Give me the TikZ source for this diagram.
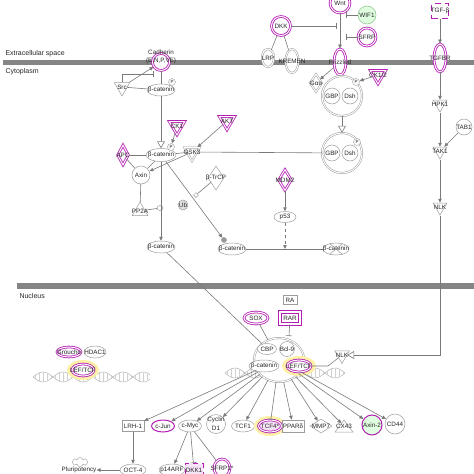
\documentclass[tikz,border=0pt]{standalone}
\usepackage{fontspec}
\setmainfont{Liberation Sans}
\usetikzlibrary{arrows.meta,shapes.geometric,shapes.symbols}
\definecolor{mag}{HTML}{B41EB4}
\definecolor{magfill}{HTML}{F7E3F7}
\definecolor{ln}{HTML}{7A7A7A}
\definecolor{shp}{HTML}{9C9C9C}
\definecolor{memb}{HTML}{858585}
\definecolor{glowy}{HTML}{FFF0A8}
\newcommand\zt[1]{\makebox[0pt]{#1}}
% double helix: start x, length, y
\newcommand\dnahelix[3]{%
  \draw[dna] plot[domain=0:#2,samples=90,smooth] ({#1+\x},{#3+5*sin(\x*9)});
  \draw[dna] plot[domain=0:#2,samples=90,smooth] ({#1+\x},{#3-5*sin(\x*9)});
  \foreach \r in {2,6,...,#2} \draw[dna,black!18] ({#1+\r},{#3+5*sin(\r*9)}) -- ({#1+\r},{#3-5*sin(\r*9)});}
\begin{document}
\begin{tikzpicture}[x=1pt,y=-1pt,
  base/.style={inner sep=0pt, font=\fontsize{6.3}{6.8}\selectfont, text=black!85},
  gel/.style={base, ellipse, draw=shp, fill=white, line width=0.5pt},
  gdb/.style={gel, double=white, double distance=1pt},
  mel/.style={base, ellipse, draw=mag, fill=white, line width=0.8pt, double=white, double distance=1pt},
  kin/.style={base, regular polygon, regular polygon sides=3, shape border rotate=180,
              minimum size=18pt, draw=shp, fill=white, line width=0.5pt},
  mkin/.style={kin, draw=mag, line width=0.8pt, double=white, double distance=1pt},
  phos/.style={kin, shape border rotate=0},
  dia/.style={base, diamond, draw=shp, fill=white, line width=0.5pt},
  mdia/.style={dia, draw=mag, line width=0.8pt, double=white, double distance=1pt},
  bx/.style={base, rectangle, draw=shp, fill=white, line width=0.5pt},
  pp/.style={base, circle, draw=shp, fill=white, minimum size=7pt, font=\fontsize{4.5}{4.5}\selectfont},
  glw/.style={ellipse, fill=glowy, draw=none},
  ln/.style={draw=ln, line width=0.6pt},
  ar/.style={ln, -{Triangle[length=4pt,width=3.5pt]}},
  oar/.style={ln, -{Triangle[open,length=7pt,width=8pt]}},
  inh/.style={ln, -{Bar[width=6pt]}},
  dna/.style={draw=black!30, line width=0.5pt},
  lab/.style={font=\fontsize{7}{8}\selectfont, text=black!85, anchor=west}]
\useasboundingbox (0,0) rectangle (474,474);
\clip (0,0) rectangle (474,474);
% membranes
\fill[memb] (3,60) rectangle (474,65);
\fill[memb] (17,283) rectangle (474,289);
\node[lab] (ecs) at (2,54) {Extracellular space};
\node[lab] (cyt) at (2,72) {Cytoplasm};
\node[lab] (nuc) at (16,296) {Nucleus};
\dnahelix{225}{120}{373}
\dnahelix{33}{117}{377}

% cytoplasm, left
\node[mel, circle, minimum size=17pt] (cad) at (161,62) {\zt{\smash{\shortstack{Cadherin\\(E,N,P,VE)}}}};
\node[kin] (src) at (122,87) {\zt{Src}};
\node[gel, minimum width=28pt, minimum height=12pt] (bc1) at (161,90) {\zt{β-catenin}};
\node[pp] (p1) at (172,82) {\zt{P}};
\node[mkin] (ck1) at (177,126) {\zt{CK1}};
\node[mkin] (akt) at (227,121) {\zt{AKT}};
\node[gel, minimum width=30pt, minimum height=13pt] (bc2) at (161,155) {\zt{β-catenin}};
\node[pp] (p2) at (171,147) {\zt{P}};
\node[kin, double=white, double distance=1pt] (gsk) at (192,152) {\zt{GSK3}};
\node[mdia, minimum width=11pt, minimum height=20pt] (apc) at (123,155) {\zt{APC}};
\node[gel, circle, minimum size=18pt] (axin) at (141,175) {\zt{Axin}};
\node[phos] (pp2a) at (140,211) {\zt{PP2A}};
\node[gel, minimum width=6pt, minimum height=5pt] (pp2ax) at (160,208) {};
\node[dia, minimum width=16pt, minimum height=24pt] (trcp) at (216,178) {\zt{β-TrCP}};
\node[dia, minimum size=5pt] (trcpx) at (196,195) {};
\node[gel, circle, fill=black!12, minimum size=10pt] (ub) at (183,205) {\zt{Ub}};
\node[gel, minimum width=28pt, minimum height=12pt] (bc3) at (161,247) {\zt{β-catenin}};
\node[gel, minimum width=28pt, minimum height=12pt] (bc4) at (232,249) {\zt{β-catenin}};
\node[gel, circle, fill=black!40, minimum size=5pt] (ub4) at (224,240) {};
\node[mdia, minimum width=13pt, minimum height=21pt] (mdm2) at (285,180) {\zt{MDM2}};
\node[gel, minimum width=22pt, minimum height=11pt] (p53) at (285,217) {\zt{p53}};
\node[gel, minimum width=26pt, minimum height=12pt] (bc5) at (336,249) {\zt{β-catenin}};
\draw[shp, line width=0.5pt] (bc5.140) -- (bc5.320) (bc5.40) -- (bc5.220);
\coordinate (deg) at (285,249);
\coordinate (srci) at (154,74);

% receptors, right
\node[mel, circle, minimum size=20pt] (wnt) at (340,3) {\zt{Wnt}};
\node[gel, circle, draw=green!45!black!45, fill=green!12, minimum size=18pt] (wif) at (367,15) {\zt{WIF1}};
\node[mel, circle, minimum size=18pt] (sfrp) at (367,37) {\zt{SFRP}};
\node[mel, circle, minimum size=19pt] (dkk) at (281,26) {\zt{DKK}};
\node[mel, minimum width=12pt, minimum height=26pt] (frz) at (340,62) {\zt{Frizzled}};
\node[gdb, minimum width=12pt, minimum height=18pt] (lrp) at (268,58) {\zt{LRP}};
\node[gdb, minimum width=13pt, minimum height=24pt] (krem) at (292,61) {\zt{KREMEN}};
\coordinate (wb1) at (346,15);
\coordinate (wb2) at (346,37);
\coordinate (wb3) at (337,26);
\node[dia, double=white, double distance=1pt, minimum width=12pt, minimum height=18pt] (gao) at (316,83) {\zt{Gαo}};
\node[gdb, circle, minimum size=40pt] (gbp1) at (342,96) {};
\node[gel, circle, minimum size=16pt] (gbp1a) at (332,96) {\zt{GBP}};
\node[gel, circle, minimum size=16pt] (dsh1) at (350,96) {\zt{Dsh}};
\node[pp] (p3) at (356,82) {\zt{P}};
\node[mkin] (ck12) at (378,75) {\zt{CK1/2}};
\node[gdb, circle, minimum size=40pt] (gbp2) at (342,153) {};
\node[gel, circle, minimum size=16pt] (gbp2a) at (332,153) {\zt{GBP}};
\node[gel, circle, minimum size=16pt] (dsh2) at (350,153) {\zt{Dsh}};
\node[pp] (p4) at (357,142) {\zt{P}};
\node[bx, draw=mag, line width=1pt, dash pattern=on 6pt off 4pt, minimum width=17pt, minimum height=15pt] (tgfb) at (440,11) {\zt{TGF-β}};
\node[mel, minimum width=12pt, minimum height=28pt] (tgfbr) at (440,58) {\zt{TGFBR}};
\node[kin, minimum size=16pt] (hpk1) at (440,104) {\zt{HPK1}};
\node[gel, circle, minimum size=16pt] (tab1) at (464,127) {\zt{TAB1}};
\node[kin, minimum size=16pt] (tak1) at (440,151) {\zt{TAK1}};
\node[kin, minimum size=16pt] (nlk1) at (440,207) {\zt{NLK}};

% nucleus
\node[mel, minimum width=24pt, minimum height=12pt] (sox) at (256,318) {\zt{SOX}};
\node[bx, minimum width=14pt, minimum height=9pt] (ra) at (290,300) {\zt{RA}};
\node[base, rectangle, draw=mag, fill=white, line width=1pt, double=white, double distance=1.2pt, minimum width=20pt, minimum height=12pt] (rar) at (290,318) {\zt{RAR}};
\coordinate (rarb) at (289,336);
\node[gdb, minimum width=50pt, minimum height=44pt] (cpx) at (279,360) {};
\node[gel, minimum width=19pt, minimum height=11pt] (cbp) at (267,349) {\zt{CBP}};
\node[gel, circle, minimum size=15pt] (bcl9) at (287,349) {\zt{Bcl-9}};
\node[gel, minimum width=30pt, minimum height=12pt] (bc6) at (264,366) {\zt{β-catenin}};
\node[glw, minimum width=34pt, minimum height=20pt] (lef1g) at (299,366) {};
\node[mel, minimum width=24pt, minimum height=12pt] (lef1) at (299,366) {\zt{LEF/TCF}};
\node[kin, minimum size=17pt] (nlk2) at (342,355) {\zt{NLK}};
\coordinate (nk) at (328,366);
\node[mel, minimum width=24pt, minimum height=10pt] (grou) at (69,352) {\zt{Groucho}};
\node[gel, minimum width=22pt, minimum height=12pt] (hdac) at (95,352) {\zt{HDAC1}};
\node[glw, minimum width=32pt, minimum height=20pt] (lef2g) at (83,370) {};
\node[mel, minimum width=22pt, minimum height=12pt] (lef2) at (83,370) {\zt{LEF/TCF}};

% target genes
\node[bx, minimum width=22pt, minimum height=11pt] (lrh) at (133,426) {\zt{LRH-1}};
\node[gel, draw=mag, line width=1pt, minimum width=23pt, minimum height=12pt] (cjun) at (163,426) {\zt{c-Jun}};
\node[gel, minimum width=23pt, minimum height=12pt] (cmyc) at (190,426) {\zt{c-Myc}};
\node[gel, circle, minimum size=19pt] (ccnd) at (216,424) {\zt{\shortstack{Cyclin\\D1}}};
\node[gel, minimum width=23pt, minimum height=12pt] (tcf1) at (243,426) {\zt{TCF1}};
\node[glw, minimum width=32pt, minimum height=20pt] (tcf4g) at (270,426) {};
\node[mel, fill=magfill, minimum width=23pt, minimum height=12pt] (tcf4) at (270,426) {\zt{TCF4*}};
\node[bx, minimum width=22pt, minimum height=12pt] (ppard) at (293,426) {\zt{PPARδ}};
\node[dia, minimum width=22pt, minimum height=14pt] (mmp7) at (321,426) {\zt{MMP7}};
\node[base, trapezium, trapezium angle=75, trapezium stretches=true, draw=shp, fill=white, line width=0.5pt, minimum width=18pt, minimum height=12pt] (cx43) at (344,426) {\zt{CX43}};
\node[gel, circle, draw=mag, line width=1pt, fill=green!12, minimum size=20pt] (axin2) at (372,425) {\zt{Axin-2}};
\node[gel, circle, minimum size=20pt] (cd44) at (395,424) {\zt{CD44}};
\node[gel, minimum width=26pt, minimum height=12pt] (oct4) at (133,470) {\zt{OCT-4}};
\node[base, cloud, cloud puffs=8, draw=shp, fill=white, minimum width=16pt, minimum height=9pt] (plurc) at (80,462) {};
\node[base] (plur) at (79,470) {Pluripotency};
\node[gel, minimum width=26pt, minimum height=12pt] (p14) at (172,470) {\zt{p14ARF}};
\node[bx, draw=mag, fill=magfill, line width=1pt, dash pattern=on 5pt off 4pt, minimum width=18pt, minimum height=13pt] (dkk1) at (194,470) {\zt{DKK1}};
\node[mel, minimum width=16pt, minimum height=18pt] (sfrp1) at (222,468) {\zt{SFRP1*}};

% connectors
\draw[ln] (cad) -- (bc1);
\draw[ln] (src) -- (bc1);
\draw[ar] (src) -- (cad);
\draw[inh] (src.north) |- (srci);
\draw[oar] (bc1) -- (bc2);
\draw[ar] (ck1) -- (p2);
\draw[ar] (akt) -- (gsk);
\draw[ln] (apc) -- (bc2);
\draw[ln] (bc2) -- (gsk);
\draw[ln] (gsk) -- (gbp2);
\draw[ln] (apc) -- (axin);
\draw[ln] (bc2) -- (axin);
\draw[ar] (gsk) -- (axin);
\draw[ln] (axin) -- (pp2a);
\draw[ln] (pp2a) -- (pp2ax);
\draw[ln] (trcp) -- (trcpx);
\draw[ar] (bc2) -- (bc3);
\draw[ar] (bc2) -- (ub4);
\draw[ar] (mdm2) -- (p53);
\draw[ar, dashed] (p53) -- (deg);
\draw[ln] (bc4) -- (bc5);
\draw[ln] (bc3) -- (cpx);
\draw[ar] (wnt) -- (frz);
\draw[inh] (wif) -- (wb1);
\draw[inh] (sfrp) -- (wb2);
\draw[inh] (dkk) -- (wb3);
\draw[ln] (dkk) -- (lrp);
\draw[ln] (dkk) -- (krem);
\draw[ar] (frz) -- (gao);
\draw[ln] (frz) -- (gbp1);
\draw[ar] (ck12) -- (p3);
\draw[oar] (gbp1) -- (gbp2);
\draw[ar] (tgfb) -- (tgfbr);
\draw[ar] (tgfbr) -- (hpk1);
\draw[ar] (hpk1) -- (tak1);
\draw[ar] (tab1) -- (tak1);
\draw[ar] (tak1) -- (nlk1);
\draw[oar] (nlk1) |- (nlk2);
\draw[ln] (nlk2) -- (nk) -- (lef1);
\draw[ln] (sox) -- (cpx);
\draw[inh] (rar) -- (rarb);
\foreach \g in {lrh,cjun,cmyc,ccnd,tcf1,ppard,mmp7,cx43,axin2,cd44}
  \draw[ar] (cpx) -- (\g);
\draw[inh] (cpx) -- (tcf4);
\draw[ar] (lrh) -- (oct4);
\draw[ar] (oct4) -- (plur);
\draw[ar] (cmyc) -- (p14);
\draw[inh] (cmyc) -- (dkk1);
\draw[ln] (cmyc) -- (sfrp1);
\end{tikzpicture}
\end{document}
